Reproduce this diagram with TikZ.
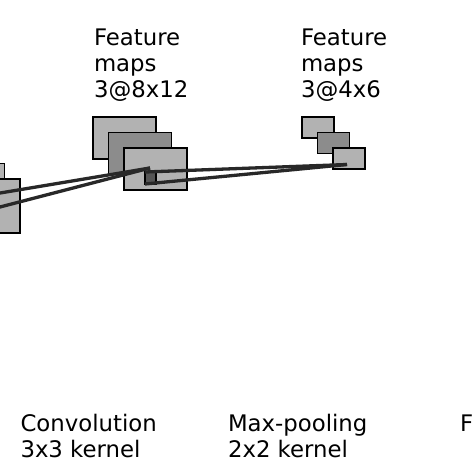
\documentclass[tikz,border=0pt]{standalone}
\usepackage{fontspec}
\setmainfont{DejaVu Sans}
\usepackage{xcolor}
\usepackage{tikz}
\usetikzlibrary{positioning,calc}
\definecolor{maplight}{RGB}{178,178,178}
\definecolor{mapdark}{RGB}{140,140,140}
\definecolor{patchgray}{RGB}{85,85,85}
\definecolor{linegray}{RGB}{40,40,40}

\begin{document}
\begin{tikzpicture}[
	x=1pt, y=-1pt,
	every node/.style={inner sep=0pt, outer sep=0pt},
	% Ô feature map
	fmap_light/.style={
		rectangle, draw=black, line width=1.8pt, fill=maplight, anchor=north west
	},
	fmap_dark/.style={
		fmap_light, fill=mapdark
	},
	% Ô patch nhỏ
	patch_box/.style={
		rectangle, draw=black, line width=1.2pt, fill=patchgray, anchor=north west,
		minimum width=11pt, minimum height=12pt
	},
	% Đường nối
	conn_line/.style={
		draw=linegray, line width=3.3pt
	},
	% Chữ chú thích
	label_text/.style={
		anchor=base west, align=left, font=\fontsize{22.8}{26}\selectfont
	}
	]
	\useasboundingbox (0,0) rectangle (474,474);
	\clip (0,0) rectangle (474,474);
	
	% Lớp đầu vào (bị cắt ở mép trái)
	\node[fmap_light, minimum width=80pt, minimum height=54pt] (in1) at (-75.5,163.5) {};
	\node[fmap_light, minimum width=80pt, minimum height=54pt] (in2) at (-60,179) {};
	
	% Feature maps 3@8x12
	\node[fmap_light, minimum width=63pt, minimum height=42pt] (c1) at (93,117) {};
	\node[fmap_dark, minimum width=63pt, minimum height=42pt] (c2) at (108.5,132.5) {};
	\node[fmap_light, minimum width=63pt, minimum height=42pt] (c3) at (124,148) {};
	
	% Feature maps 3@4x6
	\node[fmap_light, minimum width=32pt, minimum height=21pt] (p1) at (302,117) {};
	\node[fmap_dark, minimum width=32pt, minimum height=21pt] (p2) at (317.5,132.5) {};
	\node[fmap_light, minimum width=32pt, minimum height=21pt] (p3) at (333,148) {};
	
	% Đường từ đầu vào tới conv
	\coordinate (in_a) at (-40,199.7);
	\coordinate (in_b) at (-40,217.4);
	\coordinate (conv_pt) at (150,168);
	\draw[conn_line] (in_a) -- (conv_pt);
	\draw[conn_line] (in_b) -- (conv_pt);
	
	% Patch 2x2 và đường tới pooling
	\node[patch_box] (patch) at (145,172) {};
	\coordinate (pool_pt) at (347,164.5);
	\draw[conn_line] (patch.north west) -- (pool_pt);
	\draw[conn_line] (patch.south west) -- (pool_pt);
	
	% Nhãn phía trên (base = dòng cuối)
	\node[label_text] (lbl_conv) at (94,97) {Feature\\maps\\3@8x12};
	\node[label_text] (lbl_pool) at (301,97) {Feature\\maps\\3@4x6};
	
	% Nhãn phía dưới
	\node[label_text] (op_conv) at (20.5,457) {Convolution\\3x3 kernel};
	\node[label_text] (op_pool) at (228,457) {Max-pooling\\2x2 kernel};
	\node[label_text] (op_fc) at (460,431) {F};
	
\end{tikzpicture}
\end{document}
